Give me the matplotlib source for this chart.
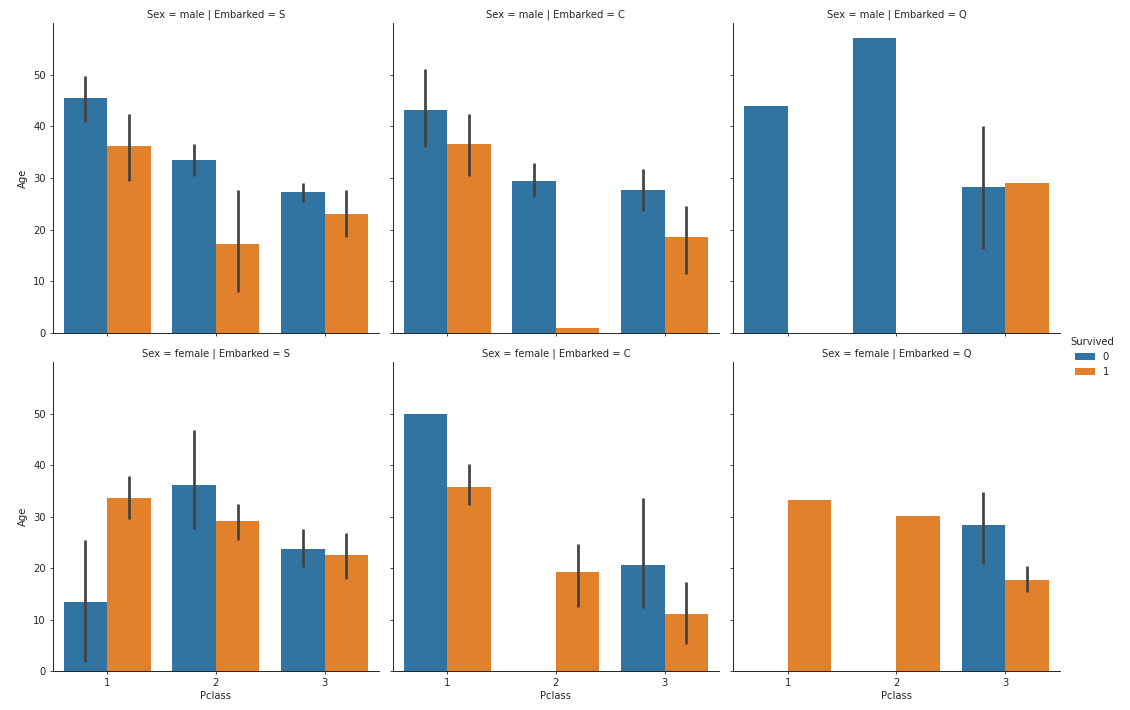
import matplotlib

matplotlib.use("Agg")
import matplotlib.pyplot as plt
import numpy as np
from matplotlib.patches import Patch

nan = np.nan

PCLASS = ["1", "2", "3"]
EMBARKED = ["S", "C", "Q"]
SEXES = ["male", "female"]
SURVIVED = ["0", "1"]

# mean age per Pclass, one row per Embarked port (S, C, Q)
male_died_age = [[45.5, 33.5, 27.3], [43.1, 29.5, 27.7], [44.0, 57.1, 28.2]]
male_died_lo = [[40.8, 30.4, 25.3], [36.1, 26.4, 23.6], [nan, nan, 16.2]]
male_died_hi = [[49.8, 36.5, 29.1], [51.2, 32.9, 31.7], [nan, nan, 40.0]]

male_surv_age = [[36.2, 17.2, 23.0], [36.5, 1.0, 18.6], [nan, nan, 29.1]]
male_surv_lo = [[29.5, 7.8, 18.5], [30.4, nan, 11.4], [nan, nan, nan]]
male_surv_hi = [[42.5, 27.7, 27.7], [42.5, nan, 24.5], [nan, nan, nan]]

female_died_age = [[13.5, 36.1, 23.7], [50.0, nan, 20.7], [nan, nan, 28.3]]
female_died_lo = [[1.9, 27.7, 20.3], [nan, nan, 12.3], [nan, nan, 20.8]]
female_died_hi = [[25.4, 46.8, 27.7], [nan, nan, 33.7], [nan, nan, 34.8]]

female_surv_age = [[33.7, 29.2, 22.6], [35.8, 19.2, 11.1], [33.2, 30.1, 17.7]]
female_surv_lo = [[29.6, 25.5, 17.9], [32.2, 12.4, 5.4], [nan, nan, 15.4]]
female_surv_hi = [[37.8, 32.5, 26.9], [40.2, 24.8, 17.3], [nan, nan, 20.5]]

COLORS = ["#3274a1", "#e1812c"]

plt.rcParams["font.family"] = "DejaVu Sans"
plt.rcParams["font.size"] = 7.2
plt.rcParams["axes.linewidth"] = 0.6
plt.rcParams["text.color"] = "#262626"
plt.rcParams["axes.labelcolor"] = "#262626"
plt.rcParams["xtick.color"] = "#262626"
plt.rcParams["ytick.color"] = "#262626"

W, H = 1130, 710
fig = plt.figure(figsize=(W / 100, H / 100), dpi=100)

col_left = [52.7, 392.7, 733.3]
row_top = [23.3, 362.0]
ax_w, ax_h = 326.3, 309.4

panels = {
    "male": [
        (male_died_age, male_died_lo, male_died_hi),
        (male_surv_age, male_surv_lo, male_surv_hi),
    ],
    "female": [
        (female_died_age, female_died_lo, female_died_hi),
        (female_surv_age, female_surv_lo, female_surv_hi),
    ],
}

axes = []
first = None
for r, sex in enumerate(SEXES):
    for c, port in enumerate(EMBARKED):
        rect = [col_left[c] / W, 1 - (row_top[r] + ax_h) / H, ax_w / W, ax_h / H]
        ax = fig.add_axes(rect, sharey=first)
        if first is None:
            first = ax
        axes.append(ax)

        x = np.arange(len(PCLASS))
        for h, (age, lo, hi) in enumerate(panels[sex]):
            vals = np.array(age[c], dtype=float)
            low = np.array(lo[c], dtype=float)
            high = np.array(hi[c], dtype=float)
            pos = x + (h - 0.5) * 0.4
            ok = np.isfinite(vals)
            ax.bar(pos[ok], vals[ok], width=0.4, color=COLORS[h], linewidth=0)
            ci = np.isfinite(low) & np.isfinite(high)
            ax.vlines(pos[ci], low[ci], high[ci], color=".26", linewidth=1.95)

        ax.set_xlim(-0.5, 2.5)
        ax.set_xticks(x)
        ax.set_yticks([0, 10, 20, 30, 40, 50])
        ax.tick_params(length=2.5, width=0.6, pad=2.5)
        ax.spines["top"].set_visible(False)
        ax.spines["right"].set_visible(False)
        ax.set_title(f"Sex = {sex} | Embarked = {port}", fontsize=7.2, pad=4)

        if r == 1:
            ax.set_xticklabels(PCLASS)
            ax.set_xlabel("Pclass", labelpad=2)
        else:
            ax.set_xticklabels([])
        if c == 0:
            ax.set_ylabel("Age", labelpad=4)
        else:
            ax.tick_params(labelleft=False)

first.set_ylim(0, 60.0)

handles = [Patch(facecolor=COLORS[i], label=SURVIVED[i]) for i in range(2)]
fig.legend(
    handles=handles,
    title="Survived",
    loc="center left",
    bbox_to_anchor=(1066 / W, 1 - 357 / H),
    frameon=False,
    fontsize=7.2,
    title_fontsize=7.2,
    handlelength=2.0,
    handleheight=0.7,
    borderaxespad=0,
)

fig.savefig("out.png", dpi=100, facecolor="white")
